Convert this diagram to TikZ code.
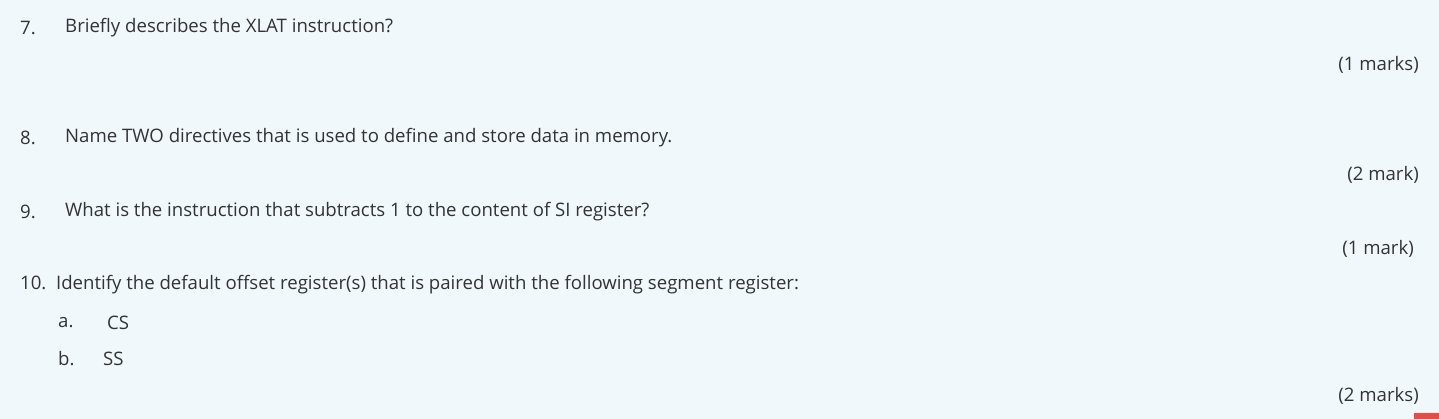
\documentclass[tikz,border=0pt]{standalone}
\usepackage{fontspec}
\setmainfont{Open Sans}
\definecolor{bg}{HTML}{F0F8FB}
\definecolor{txt}{HTML}{333333}
\definecolor{redm}{HTML}{E0504A}
\begin{document}
\begin{tikzpicture}[x=1pt,y=-1pt,
  t/.style={anchor=west,inner sep=0pt,text=txt,font=\fontsize{18.6}{21}\selectfont},
  r/.style={anchor=east,inner sep=0pt,text=txt,font=\fontsize{18.6}{21}\selectfont}]
\fill[bg] (0,0) rectangle (1439,419);
\useasboundingbox (0,0) rectangle (1439,419);
\fill[redm] (1414,413) rectangle (1439,419);
\node[t] (n7) at (20,28) {7.};
\node[t] (q7) at (65,28) {Briefly describes the XLAT instruction?};
\node[r] (m7) at (1419,65) {(1 marks)};
\node[t] (n8) at (20,138) {8.};
\node[t] (q8) at (65,138) {Name TWO directives that is used to define and store data in memory.};
\node[r] (m8) at (1419,175) {(2 mark)};
\node[t] (n9) at (20,212) {9.};
\node[t] (q9) at (65,212) {What is the instruction that subtracts 1 to the content of SI register?};
\node[r] (m9) at (1414,249) {(1 mark)};
\node[t] (q10) at (20,285) {10.\ \ Identify the default offset register(s) that is paired with the following segment register:};
\node[t] (la) at (58,323) {a.};
\node[t] (ca) at (107,323) {CS};
\node[t] (lb) at (58,359) {b.};
\node[t] (cb) at (103,359) {SS};
\node[r] (m10) at (1419,396) {(2 marks)};
\end{tikzpicture}
\end{document}
